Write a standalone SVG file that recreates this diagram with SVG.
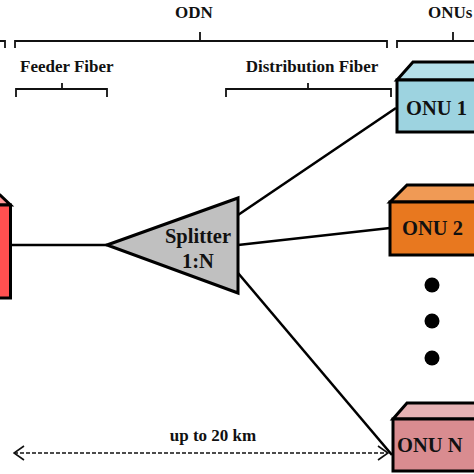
<svg xmlns="http://www.w3.org/2000/svg" width="474" height="474" viewBox="0 0 474 474">
<style>
text{font-family:"Liberation Serif","Times New Roman",serif;font-weight:bold;fill:#111}
.br{fill:none;stroke:#111;stroke-width:1.8}
.ln{fill:none;stroke:#000;stroke-width:2.6}
.box{stroke:#000;stroke-width:3;stroke-linejoin:miter}
.t{font-size:20.5px}
.s{font-size:17px}
</style>
<defs>
<marker id="ah" markerWidth="12" markerHeight="16" refX="11" refY="8" orient="auto-start-reverse" markerUnits="userSpaceOnUse">
<path d="M1,1 L11,8 L1,15" fill="none" stroke="#111" stroke-width="1.6"/>
</marker>
</defs>
<rect width="474" height="474" fill="#fff"/>

<g id="labels">
<text x="194" y="18" text-anchor="middle" class="s">ODN</text>
<text x="428" y="18" class="s">ONUs</text>
<path class="br" d="M0,41 H5 V48"/>
<path class="br" d="M15,48 V41 H387 V48 M200,41 V32"/>
<path class="br" d="M397,48 V41 H480 M453,41 V32"/>
<text x="20" y="72" class="s">Feeder Fiber</text>
<path class="br" d="M16,97 V89 H107 V97 M62,89 V83"/>
<text x="312" y="72" class="s" text-anchor="middle">Distribution Fiber</text>
<path class="br" d="M226,97 V89 H391 V97 M308,89 V83"/>
</g>

<g id="connectors">
<line class="ln" x1="11" y1="245" x2="107" y2="245"/>
<line class="ln" x1="238" y1="215" x2="396" y2="108"/>
<line class="ln" x1="238" y1="245" x2="390" y2="228"/>
<line class="ln" x1="238" y1="273" x2="392" y2="455"/>
<line x1="14" y1="453" x2="388" y2="453" stroke="#111" stroke-width="1.5" stroke-dasharray="4 2" marker-start="url(#ah)" marker-end="url(#ah)"/>
<text x="213" y="441" class="s" text-anchor="middle">up to 20 km</text>
</g>

<g id="olt">
<path class="box" d="M-10,195 L0,195 L10.5,205 L-10,205 Z" fill="#ff9a9a"/>
<rect class="box" x="-10" y="205" width="20.5" height="93" fill="#ff5050"/>
</g>

<g id="splitter">
<path class="box" d="M107,245 L238,198 L238,293 Z" fill="#c0c0c0"/>
<text x="198" y="243" class="t" text-anchor="middle">Splitter</text>
<text x="198" y="268" class="t" text-anchor="middle">1:N</text>
</g>

<g id="onu1">
<path class="box" d="M397,80 L413,62 L490,62 L490,80 Z" fill="#b4dfe9"/>
<rect class="box" x="397" y="80" width="93" height="52" fill="#9dd3e0"/>
<text x="406" y="115" class="t">ONU 1</text>
</g>

<g id="onu2">
<path class="box" d="M390,202 L407,185 L490,185 L490,202 Z" fill="#f09a55"/>
<rect class="box" x="390" y="202" width="100" height="53" fill="#e8781f"/>
<text x="402" y="235" class="t">ONU 2</text>
</g>

<g id="dots" fill="#000">
<circle cx="432" cy="285" r="7.5"/>
<circle cx="432" cy="321" r="7.5"/>
<circle cx="432" cy="358" r="7.5"/>
</g>

<g id="onuN">
<path class="box" d="M393,419 L407,403 L490,403 L490,419 Z" fill="#e6b2b4"/>
<rect class="box" x="393" y="419" width="100" height="52" fill="#d98c90"/>
<text x="397" y="452" class="t">ONU N</text>
</g>
</svg>
